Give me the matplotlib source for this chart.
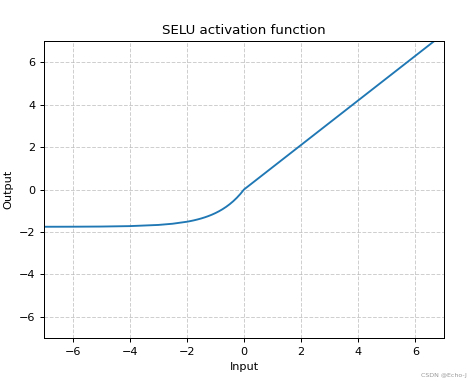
import matplotlib
matplotlib.use('Agg')
import matplotlib.pyplot as plt

# SELU curve values
x_vals = [-7, -6, -5, -4, -3, -2.5, -2, -1.875, -1.75, -1.625, -1.5, -1.375, -1.25, -1.125,
          -1, -0.875, -0.75, -0.625, -0.5, -0.375, -0.25, -0.125, 0, 7]
y_vals = [-1.7565, -1.7537, -1.7463, -1.7259, -1.6706, -1.6138, -1.5202, -1.4885, -1.4526,
          -1.4119, -1.3658, -1.3136, -1.2544, -1.1873, -1.1113, -1.0252, -0.9276, -0.8171,
          -0.6918, -0.5498, -0.3889, -0.2066, 0.0, 7.355]

plt.rcParams['font.size'] = 9
plt.rcParams['axes.titlesize'] = 10.7

fig = plt.figure(figsize=(474 / 90, 383 / 90), dpi=90)
ax = fig.add_axes([44 / 474, 45 / 383, 400 / 474, 297 / 383])

ax.plot(x_vals, y_vals)
ax.set_xlim(-7, 7)
ax.set_ylim(-7, 7)
ax.set_title('SELU activation function')
ax.set_xlabel('Input')
ax.set_ylabel('Output')
ax.grid(True, linestyle='--', alpha=0.6)

fig.text(0.985, 0.015, 'CSDN @Echo-J', fontsize=5, color='#999999', ha='right')

fig.savefig('out.png', dpi=90)
